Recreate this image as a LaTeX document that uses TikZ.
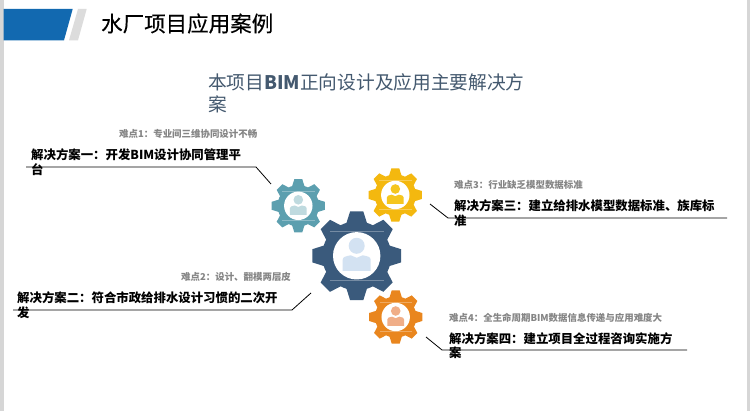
\documentclass[tikz,border=0pt]{standalone}
\usepackage{fontspec}
\setmainfont{Noto Sans CJK SC}
\newfontfamily\titlefont[FakeBold=0.25]{Noto Sans CJK SC}
\definecolor{pagegray}{HTML}{D6D6D6}
\definecolor{bandblue}{HTML}{1269B0}
\definecolor{bandgray}{HTML}{DCDCDC}
\definecolor{headblue}{HTML}{44596F}
\definecolor{mutedtext}{HTML}{858585}
\definecolor{gearnavy}{HTML}{3A5A7C}
\definecolor{gearteal}{HTML}{5C9FAF}
\definecolor{gearyellow}{HTML}{F4B80F}
\definecolor{gearorange}{HTML}{E9861E}
\definecolor{iconnavy}{HTML}{D3E2F2}
\definecolor{iconteal}{HTML}{BFDADF}
\definecolor{iconyellow}{HTML}{F5C61E}
\definecolor{iconorange}{HTML}{F0AE88}
\tikzset{
  titletext/.style={anchor=west,inner sep=0pt,font=\titlefont\fontsize{21.5}{24}\selectfont,text=black},
  headtext/.style={anchor=north west,inner sep=0pt,align=left,font=\fontsize{18.7}{22}\selectfont,text=headblue},
  hardtext/.style={anchor=west,inner sep=0pt,font=\fontsize{9.45}{11}\bfseries\selectfont,text=mutedtext},
  solvetext/.style={anchor=north west,inner sep=0pt,align=left,text=black},
  leader/.style={draw=black,line width=0.8pt,line join=miter},
}
\newcommand{\gearpic}[6]{%
  % name, cx, cy, scale, gear colour, icon colour
  \coordinate (#1) at (#2,#3);
  \begin{scope}[shift={(#1)},scale=#4]
    \fill[#5] (0,0) circle (34.5);
    \foreach \a in {0,45,...,315}{
      \fill[#5] (\a-19:33) -- (\a-8.5:44.8) -- (\a+8.5:44.8) -- (\a+19:33) -- cycle;
    }
    \draw[white,opacity=.3,line width=.5pt] (-27,-24.5) -- (27,-24.5) (-27,24) -- (27,24);
    \fill[white] (0,0) circle (23.7);
    \fill[#6] (0,-10) circle (8);
    \fill[#6] (-14,15) -- (-14,4) .. controls (-14,1) and (-11,0.5) .. (-6,-0.5)
       -- (0,2) -- (6,-0.5) .. controls (11,0.5) and (14,1) .. (14,4) -- (14,15) -- cycle;
  \end{scope}
}
\begin{document}
\begin{tikzpicture}[x=1pt,y=-1pt]
\useasboundingbox (0,0) rectangle (750,411);
\fill[white] (0,0) rectangle (750,411);
\fill[pagegray] (0,0) rectangle (3.6,411);
\fill[pagegray] (746.7,0) rectangle (750,411);
\fill[bandblue] (3.6,9) -- (72.7,9) -- (64,40.3) -- (3.6,40.3) -- cycle;
\fill[bandgray] (78,9) -- (86.7,9) -- (78,40.3) -- (69,40.3) -- cycle;
\node[titletext] (title) at (101,23.5) {水厂项目应用案例};
\node[headtext] (heading) at (208,73.5) {本项目\textbf{BIM}正向设计及应用主要解决方\\案};

\gearpic{gearA}{298.3}{205.8}{0.6}{gearteal}{iconteal}
\gearpic{gearB}{395.3}{195}{0.6}{gearyellow}{iconyellow}
\gearpic{gearC}{356.7}{255.8}{1}{gearnavy}{iconnavy}
\gearpic{gearD}{395.7}{317}{0.6}{gearorange}{iconorange}

\node[hardtext] (hardA) at (119,134) {难点1：专业间三维协同设计不畅};
\node[hardtext] (hardB) at (181,277) {难点2：设计、翻模两层皮};
\node[hardtext] (hardC) at (454,185) {难点3：行业缺乏模型数据标准};
\node[hardtext] (hardD) at (449,318) {难点4：全生命周期BIM数据信息传递与应用难度大};

\node[solvetext,font=\fontsize{12.4}{15.5}\bfseries\selectfont] (solveA) at (31,148) {解决方案一：开发BIM设计协同管理平\\台};
\node[solvetext,font=\fontsize{12.4}{15}\bfseries\selectfont] (solveB) at (17,291.5) {解决方案二：符合市政给排水设计习惯的二次开\\发};
\node[solvetext,font=\fontsize{12.4}{14.5}\bfseries\selectfont] (solveC) at (454,199.5) {解决方案三：建立给排水模型数据标准、族库标\\准};
\node[solvetext,font=\fontsize{12.4}{14.5}\bfseries\selectfont] (solveD) at (449,332) {解决方案四：建立项目全过程咨询实施方\\案};

\coordinate (lineAs) at (26,167);
\coordinate (lineAk) at (256,167);
\coordinate (lineAe) at (271,184);
\coordinate (lineBs) at (13,310);
\coordinate (lineBk) at (292,310);
\coordinate (lineBe) at (311,293);
\coordinate (lineCs) at (727,218);
\coordinate (lineCk) at (448,218);
\coordinate (lineCe) at (430,204);
\coordinate (lineDs) at (687,350);
\coordinate (lineDk) at (442,350);
\coordinate (lineDe) at (426,337);
\draw[leader] (lineAs) -- (lineAk) -- (lineAe);
\draw[leader] (lineBs) -- (lineBk) -- (lineBe);
\draw[leader] (lineCs) -- (lineCk) -- (lineCe);
\draw[leader] (lineDs) -- (lineDk) -- (lineDe);
\end{tikzpicture}
\end{document}
